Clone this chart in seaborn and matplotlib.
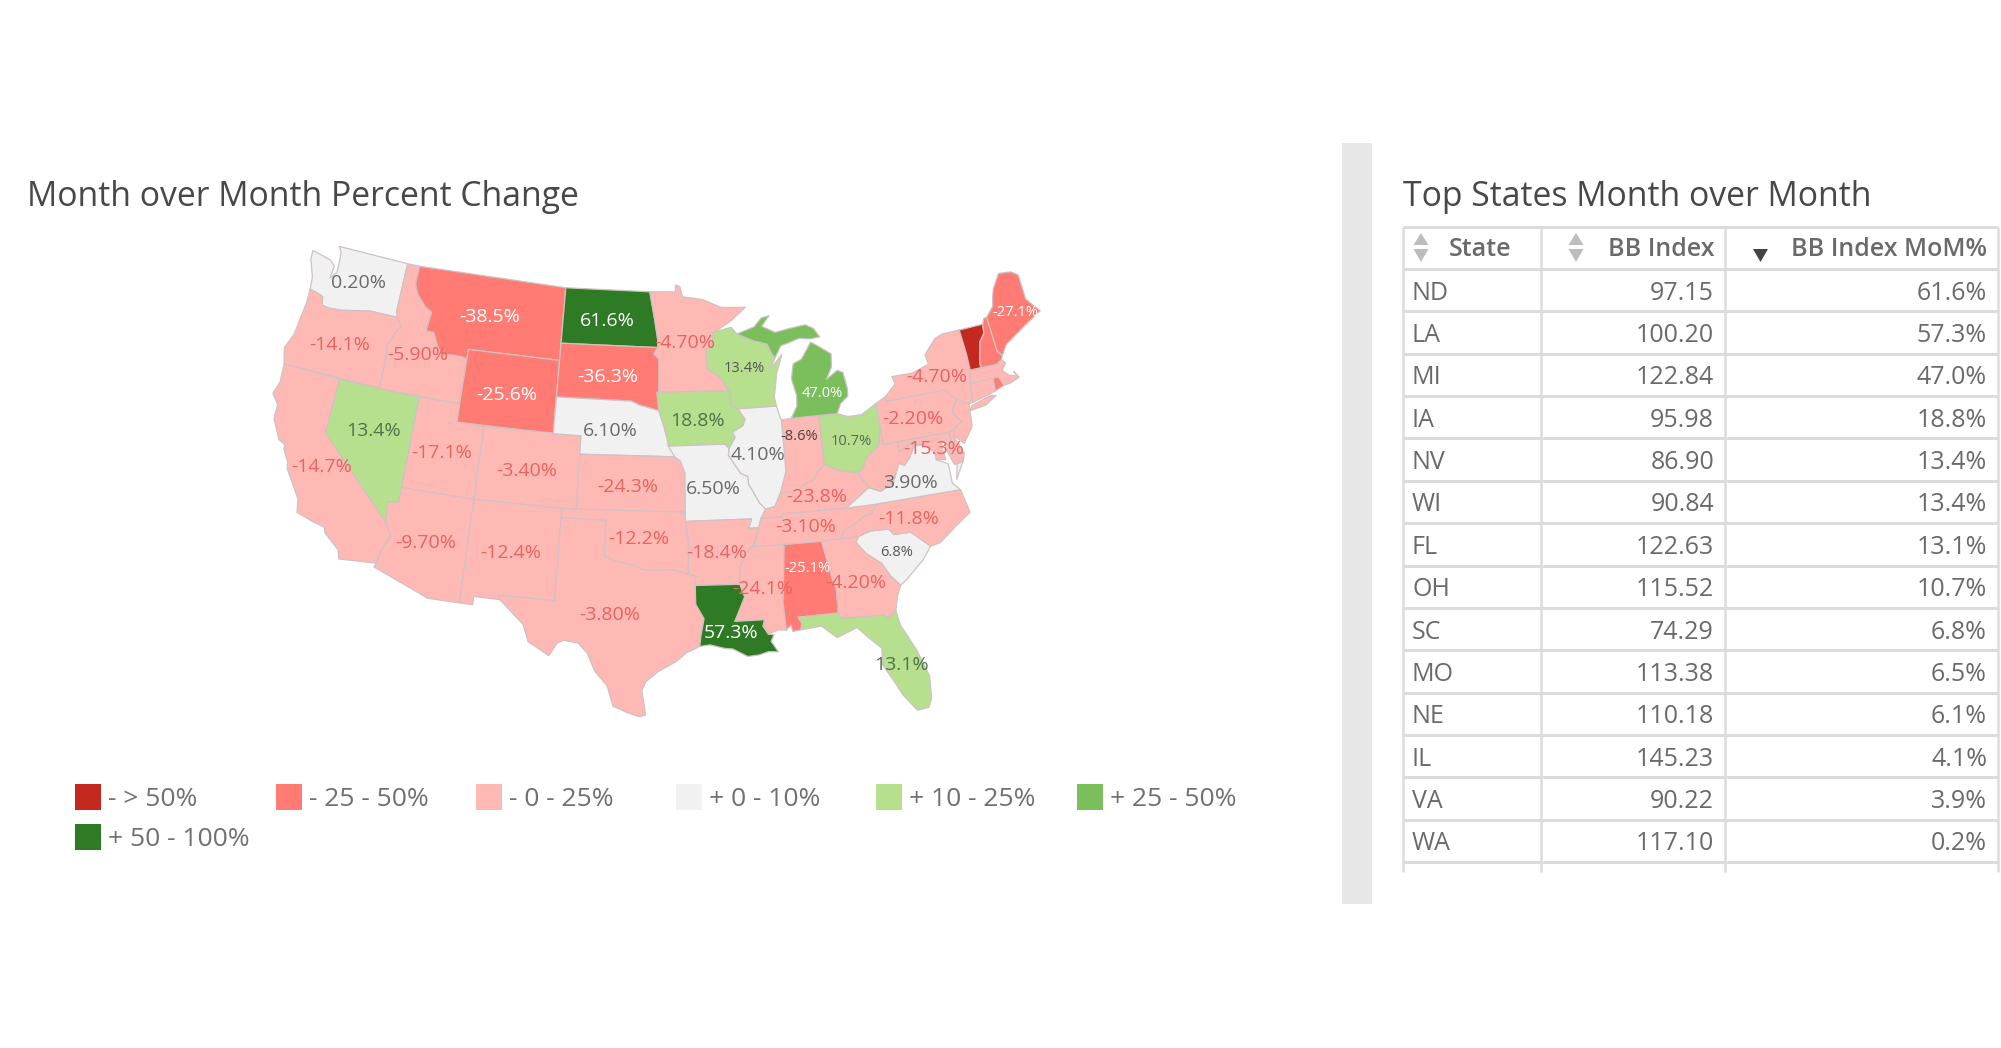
import numpy as np
import pandas as pd
import seaborn as sns
import matplotlib
matplotlib.use("Agg")
import matplotlib.pyplot as plt
from matplotlib.patches import Polygon, Rectangle

# ---------------- data ----------------
table_states = ["ND","LA","MI","IA","NV","WI","FL","OH","SC","MO","NE","IL","VA","WA"]
table_index = ["97.15","100.20","122.84","95.98","86.90","90.84","122.63","115.52","74.29","113.38","110.18","145.23","90.22","117.10"]
table_mom = ["61.6%","57.3%","47.0%","18.8%","13.4%","13.4%","13.1%","10.7%","6.8%","6.5%","6.1%","4.1%","3.9%","0.2%"]

legend_labels = ["- > 50%","- 25 - 50%","- 0 - 25%","+ 0 - 10%","+ 10 - 25%","+ 25 - 50%","+ 50 - 100%"]
legend_colors = ["#c4281f","#ff7b74","#ffb9b5","#f1f1f1","#b6e08e","#7abf5c","#2f7a25"]

state_bin = {
 "WA":3,"OR":2,"CA":2,"NV":4,"ID":2,"MT":1,"WY":1,"UT":2,"AZ":2,"CO":2,"NM":2,"ND":6,"SD":1,"NE":3,
 "KS":2,"OK":2,"TX":2,"MN":2,"IA":4,"MO":3,"AR":2,"LA":6,"WI":4,"IL":3,"MI":5,"MI2":5,"IN":2,"OH":4,
 "KY":2,"TN":2,"MS":2,"AL":1,"GA":2,"FL":4,"SC":3,"NC":2,"VA":3,"VA2":3,"WV":2,"PA":2,"NY":2,"LI":2,
 "NJ":2,"MD":2,"DE":2,"CT":2,"RI":1,"MA":2,"VT":0,"NH":1,"ME":1}

# state outlines, longitude / latitude
outlines = {
"WA":[(-117.03,49),(-122.76,49),(-122.5,48.75),(-122.4,48.25),(-122.35,47.6),(-122.75,47.2),(-122.7,47.9),(-123.15,48.15),(-124.7,48.38),(-124.65,47.9),(-124.1,46.95),(-124.0,46.3),(-123.4,46.2),(-122.9,46.1),(-122.75,45.65),(-122.2,45.58),(-121.2,45.65),(-119.6,45.92),(-119,46),(-116.92,46),(-117.04,46.4)],
"OR":[(-124.0,46.3),(-123.4,46.2),(-122.9,46.1),(-122.75,45.65),(-122.2,45.58),(-121.2,45.65),(-119.6,45.92),(-119,46),(-116.92,46),(-116.46,45.6),(-116.85,45),(-117.2,44.4),(-117.03,43.8),(-117.03,42),(-124.21,42),(-124.55,42.84),(-124.15,43.7),(-124.05,44.7),(-123.95,45.5)],
"CA":[(-124.21,42),(-120,42),(-120,39),(-114.63,35),(-114.14,34.3),(-114.53,33.5),(-114.72,32.72),(-117.12,32.53),(-117.3,33.0),(-118.4,33.75),(-118.5,34.03),(-119.2,34.15),(-120.5,34.45),(-120.65,35.15),(-121.9,36.6),(-122.0,36.95),(-122.5,37.6),(-122.5,37.8),(-123,38),(-123.75,39),(-123.8,39.8),(-124.35,40.3),(-124.1,41)],
"NV":[(-120,42),(-114.04,42),(-114.04,36.2),(-114.75,36.1),(-114.63,35),(-120,39)],
"ID":[(-117.03,49),(-116.05,49),(-116.05,48),(-115.7,47.45),(-114.95,46.9),(-114.35,46.65),(-114.5,45.6),(-113.9,45.6),(-113.45,44.95),(-113,44.45),(-112.3,44.55),(-111.5,44.55),(-111.05,44.48),(-111.05,42),(-117.03,42),(-117.03,43.8),(-117.2,44.4),(-116.85,45),(-116.46,45.6),(-116.92,46),(-117.04,46.4)],
"MT":[(-116.05,49),(-104.05,49),(-104.05,45),(-111.05,45),(-111.05,44.48),(-111.5,44.55),(-112.3,44.55),(-113,44.45),(-113.45,44.95),(-113.9,45.6),(-114.5,45.6),(-114.35,46.65),(-114.95,46.9),(-115.7,47.45),(-116.05,48)],
"WY":[(-111.05,45),(-104.05,45),(-104.05,41),(-111.05,41)],
"UT":[(-114.04,42),(-111.05,42),(-111.05,41),(-109.05,41),(-109.05,37),(-114.04,37)],
"CO":[(-109.05,41),(-102.05,41),(-102.05,37),(-109.05,37)],
"AZ":[(-114.04,37),(-109.05,37),(-109.05,31.33),(-111.07,31.33),(-114.81,32.5),(-114.72,32.72),(-114.53,33.5),(-114.14,34.3),(-114.63,35),(-114.75,36.1),(-114.04,36.2)],
"NM":[(-109.05,37),(-103,37),(-103.04,32),(-106.62,32),(-106.53,31.78),(-108.2,31.78),(-108.2,31.33),(-109.05,31.33)],
"ND":[(-104.05,49),(-97.23,49),(-96.85,47.6),(-96.55,46.3),(-96.56,45.94),(-104.05,45.94)],
"SD":[(-104.05,45.94),(-96.56,45.94),(-96.85,45.6),(-96.45,45.3),(-96.45,43.5),(-96.6,43.5),(-96.45,42.5),(-97.9,42.8),(-98.5,43),(-104.05,43)],
"NE":[(-104.05,43),(-98.5,43),(-97.9,42.8),(-96.45,42.5),(-96.1,41.7),(-95.85,41),(-95.31,40),(-102.05,40),(-102.05,41),(-104.05,41)],
"KS":[(-102.05,40),(-95.31,40),(-94.9,39.75),(-94.6,39.1),(-94.62,37),(-102.05,37)],
"OK":[(-103,37),(-94.62,37),(-94.62,36.5),(-94.43,35.4),(-94.48,33.64),(-95.5,33.9),(-96.6,33.85),(-97.5,33.9),(-98.1,34.13),(-99.2,34.3),(-100,34.56),(-100,36.5),(-103,36.5)],
"TX":[(-103.04,36.5),(-100,36.5),(-100,34.56),(-99.2,34.3),(-98.1,34.13),(-97.5,33.9),(-96.6,33.85),(-95.5,33.9),(-94.48,33.64),(-94.04,33.55),(-94.04,33.02),(-94.04,32),(-93.53,31.2),(-93.75,30.3),(-93.85,29.7),(-94.7,29.35),(-95.3,28.9),(-96.4,28.35),(-97.15,27.8),(-97.4,27.3),(-97.15,25.96),(-97.5,25.85),(-98.2,26.05),(-99.1,26.4),(-99.5,27.5),(-100.3,28.3),(-100.8,29.25),(-101.4,29.77),(-102.3,29.88),(-102.7,29.7),(-103.15,28.98),(-104.5,29.65),(-104.9,30.55),(-106.53,31.78),(-106.62,32),(-103.04,32)],
"MN":[(-97.23,49),(-95.15,49),(-95.15,49.38),(-94.8,49.3),(-94.6,48.72),(-93.0,48.55),(-91.5,48.07),(-89.6,48.0),(-90.8,47.3),(-92.1,46.75),(-92.29,46.66),(-92.29,46.07),(-92.87,45.7),(-92.75,45),(-92.8,44.75),(-91.9,44.3),(-91.25,43.5),(-96.45,43.5),(-96.45,45.3),(-96.85,45.6),(-96.56,45.94),(-96.55,46.3),(-96.85,47.6)],
"IA":[(-96.45,43.5),(-91.22,43.5),(-91.1,42.7),(-90.64,42.5),(-90.15,41.9),(-90.35,41.55),(-91.1,41.25),(-90.95,40.95),(-91.42,40.38),(-91.73,40.61),(-95.77,40.58),(-95.85,41),(-96.1,41.7),(-96.45,42.5),(-96.6,43.5)],
"MO":[(-95.77,40.58),(-91.73,40.61),(-91.42,40.38),(-91.5,40.0),(-90.7,39.0),(-90.2,38.8),(-90.2,38.4),(-89.5,37.3),(-89.13,36.98),(-89.5,36.5),(-89.7,36.0),(-90.37,36),(-90.15,36.5),(-94.62,36.5),(-94.62,37),(-94.6,39.1),(-94.9,39.75),(-95.31,40)],
"AR":[(-94.62,36.5),(-90.15,36.5),(-90.37,36),(-89.7,36),(-90.1,35.1),(-90.6,34.7),(-91.1,33.9),(-91.17,33),(-94.04,33.02),(-94.04,33.55),(-94.48,33.64),(-94.43,35.4)],
"MS":[(-90.1,35),(-88.2,35),(-88.1,34.9),(-88.47,31.9),(-88.4,30.35),(-88.9,30.4),(-89.55,30.2),(-89.85,30.65),(-89.73,31),(-91.6,31),(-90.9,32.3),(-91.17,33),(-91.1,33.9),(-90.6,34.7)],
"LA":[(-94.04,33.02),(-91.17,33),(-90.9,32.3),(-91.6,31),(-89.73,31),(-89.85,30.65),(-89.55,30.2),(-89.2,30.15),(-89.4,29.8),(-89.0,29.2),(-89.6,29.25),(-90.2,29.1),(-90.9,29.05),(-91.8,29.5),(-92.3,29.55),(-93.2,29.77),(-93.85,29.7),(-93.75,30.3),(-93.53,31.2),(-94.04,32)],
"AL":[(-88.2,35),(-85.6,34.98),(-85.18,32.87),(-85,32.3),(-85.05,31),(-87.6,31),(-87.4,30.65),(-87.5,30.3),(-88,30.25),(-88.1,30.6),(-88.4,30.35),(-88.47,31.9),(-88.1,34.9)],
"GA":[(-85.6,34.98),(-83.1,35),(-83.35,34.7),(-82.75,34.0),(-81.9,33.4),(-81.4,32.6),(-80.88,32.05),(-81.2,31.5),(-81.45,30.72),(-82.05,30.36),(-82.2,30.57),(-84.86,30.7),(-85.05,31),(-85,32.3),(-85.18,32.87)],
"FL":[(-87.6,31),(-85.05,31),(-84.86,30.7),(-82.2,30.57),(-82.05,30.36),(-81.45,30.72),(-81.3,29.9),(-80.55,28.4),(-80.05,26.9),(-80.15,25.7),(-80.4,25.2),(-81.1,25.15),(-81.8,26.1),(-82.2,26.9),(-82.75,27.9),(-82.65,28.8),(-83.4,29.5),(-84.0,30.1),(-85.3,29.68),(-86.2,30.4),(-87.5,30.3),(-87.4,30.65)],
"SC":[(-83.1,35),(-82.3,35.2),(-81.05,35.15),(-80.8,34.82),(-79.67,34.8),(-78.55,33.86),(-79.2,33.2),(-80.45,32.3),(-80.88,32.05),(-81.4,32.6),(-81.9,33.4),(-82.75,34),(-83.35,34.7)],
"NC":[(-84.32,35),(-83.1,35),(-82.3,35.2),(-81.05,35.15),(-80.8,34.82),(-79.67,34.8),(-78.55,33.86),(-77.9,33.95),(-76.6,34.7),(-75.55,35.25),(-75.85,36.55),(-81.68,36.59),(-82.05,36.12),(-82.6,36.03),(-83.2,35.72),(-84.05,35.4)],
"TN":[(-89.5,36.5),(-88.05,36.5),(-88.05,36.65),(-83.68,36.6),(-81.68,36.59),(-82.05,36.12),(-82.6,36.03),(-83.2,35.72),(-84.05,35.4),(-84.32,35),(-85.6,34.98),(-88.2,35),(-90.1,35),(-89.7,36)],
"KY":[(-89.5,36.5),(-89.13,36.98),(-88.5,37.1),(-88.05,37.8),(-87.1,37.8),(-86.3,38.15),(-85.7,38.3),(-85.4,38.7),(-84.8,39.1),(-84.2,38.8),(-83.65,38.63),(-82.6,38.42),(-81.97,37.54),(-83.68,36.6),(-88.05,36.65),(-88.05,36.5)],
"VA":[(-83.68,36.6),(-81.68,36.59),(-75.85,36.55),(-76.3,37),(-76.3,38.05),(-77.05,38.4),(-77.05,38.85),(-77.72,39.32),(-78.35,39.4),(-78.85,38.77),(-79.3,38.42),(-79.65,38.58),(-80.3,37.55),(-81.22,37.24),(-81.97,37.54)],
"VA2":[(-75.95,37.15),(-75.25,38.03),(-75.7,37.95)],
"WV":[(-82.6,38.42),(-82.2,38.6),(-81.75,39.2),(-80.85,39.7),(-80.52,40.64),(-80.52,39.72),(-79.48,39.72),(-79.48,39.2),(-78.4,39.6),(-77.72,39.32),(-78.35,39.4),(-78.85,38.77),(-79.3,38.42),(-79.65,38.58),(-80.3,37.55),(-81.22,37.24),(-81.97,37.54)],
"OH":[(-84.82,39.1),(-84.8,41.7),(-83.45,41.73),(-82.7,41.5),(-81.7,41.5),(-80.52,41.98),(-80.52,40.64),(-80.85,39.7),(-81.75,39.2),(-82.2,38.6),(-82.6,38.42),(-83.65,38.63),(-84.2,38.8)],
"IN":[(-87.53,41.72),(-86.8,41.76),(-84.8,41.76),(-84.82,39.1),(-85.4,38.7),(-85.7,38.3),(-86.3,38.15),(-87.1,37.8),(-88.05,37.8),(-87.55,38.9),(-87.53,39.35)],
"IL":[(-90.64,42.5),(-87.8,42.5),(-87.6,41.85),(-87.53,41.72),(-87.53,39.35),(-87.55,38.9),(-88.05,37.8),(-88.5,37.1),(-89.13,36.98),(-89.5,37.3),(-90.2,38.4),(-90.2,38.8),(-90.7,39),(-91.5,40),(-91.42,40.38),(-90.95,40.95),(-91.1,41.25),(-90.35,41.55),(-90.15,41.9)],
"WI":[(-92.29,46.66),(-92.1,46.75),(-90.8,46.95),(-90.4,46.57),(-89.1,46.13),(-88.1,45.9),(-87.8,45.35),(-87.6,45.1),(-88.0,44.55),(-87.05,45.25),(-87.55,44.3),(-87.9,43.0),(-87.8,42.5),(-90.64,42.5),(-91.1,42.7),(-91.22,43.5),(-91.9,44.3),(-92.8,44.75),(-92.75,45),(-92.87,45.7),(-92.29,46.07)],
"MI":[(-86.8,41.76),(-84.8,41.76),(-83.45,41.73),(-83.1,42.25),(-82.5,42.6),(-82.45,43),(-82.6,43.9),(-83,44.07),(-83.9,43.65),(-83.4,44.3),(-83.3,45),(-84.1,45.45),(-84.75,45.78),(-85.1,45.4),(-85.6,44.9),(-86.25,44.7),(-86.5,43.9),(-86.25,43),(-86.3,42.4)],
"MI2":[(-90.4,46.57),(-89,46.9),(-88.4,47.35),(-87.75,47.45),(-88.4,46.9),(-87.4,46.5),(-86.2,46.65),(-85,46.75),(-84.4,46.5),(-84.0,46.0),(-84.75,45.95),(-85.6,46.05),(-86.5,45.85),(-87.05,45.75),(-87.6,45.1),(-87.8,45.35),(-88.1,45.9),(-89.1,46.13)],
"PA":[(-80.52,41.98),(-79.76,42.27),(-79.76,42),(-75.35,42),(-75.05,41.6),(-74.7,41.36),(-75.15,40.95),(-75.2,40.65),(-74.73,40.15),(-75.4,39.8),(-75.8,39.72),(-80.52,39.72),(-80.52,40.64)],
"NY":[(-79.76,42.27),(-78.9,42.85),(-79.05,43.27),(-77.5,43.25),(-76.2,43.55),(-76.3,44.1),(-75.3,44.85),(-74.7,45),(-73.35,45),(-73.25,43.6),(-73.27,42.75),(-73.5,42.05),(-73.65,41),(-73.92,40.99),(-74.7,41.36),(-75.05,41.6),(-75.35,42),(-79.76,42)],
"LI":[(-74.03,40.6),(-73.75,40.85),(-72.3,41.15),(-71.9,41.07),(-72.8,40.7)],
"NJ":[(-74.7,41.36),(-73.92,40.99),(-74,40.45),(-74.1,39.75),(-74.9,38.95),(-75.55,39.5),(-75.4,39.8),(-74.73,40.15),(-75.2,40.65),(-75.15,40.95)],
"DE":[(-75.8,39.72),(-75.4,39.8),(-75.55,39.5),(-75.05,38.45),(-75.7,38.46)],
"MD":[(-79.48,39.72),(-75.8,39.72),(-75.7,38.46),(-75.05,38.45),(-75.25,38.03),(-75.9,37.95),(-76.25,38.9),(-76.05,39.4),(-76.5,39.15),(-76.4,38.3),(-77.05,38.4),(-77.05,38.85),(-77.72,39.32),(-78.4,39.6),(-79.48,39.2)],
"CT":[(-73.5,42.05),(-71.8,42.02),(-71.85,41.32),(-73.65,41)],
"RI":[(-71.8,42.02),(-71.38,42.02),(-71.15,41.5),(-71.85,41.32)],
"MA":[(-73.5,42.05),(-73.27,42.75),(-71.3,42.7),(-70.85,42.87),(-70.6,42.65),(-71.0,42.3),(-70.6,41.95),(-70.0,41.78),(-70.2,42.07),(-69.95,41.7),(-70.65,41.53),(-71.15,41.5),(-71.38,42.02),(-71.8,42.02)],
"VT":[(-73.35,45),(-71.5,45),(-71.6,44.5),(-72.05,44.1),(-72.45,43),(-72.46,42.73),(-73.27,42.75),(-73.25,43.6)],
"NH":[(-71.5,45),(-71.3,45.3),(-71.08,45.3),(-70.98,43.4),(-70.7,43.07),(-70.85,42.87),(-71.3,42.7),(-72.46,42.73),(-72.45,43),(-72.05,44.1),(-71.6,44.5)],
"ME":[(-71.08,45.3),(-70.4,45.8),(-70.25,46.2),(-70,46.7),(-69.25,47.45),(-68.3,47.35),(-67.8,47.07),(-67.8,45.7),(-67.45,45.3),(-67,44.85),(-68.5,44.3),(-69,44.1),(-70.2,43.6),(-70.7,43.07),(-70.98,43.4)],
}

state_labels = {"WA":"0.20%","OR":"-14.1%","ID":"-5.90%","MT":"-38.5%","ND":"61.6%","SD":"-36.3%","WY":"-25.6%","NE":"6.10%",
 "NV":"13.4%","UT":"-17.1%","CO":"-3.40%","KS":"-24.3%","CA":"-14.7%","MN":"-4.70%","WI":"13.4%","MI":"47.0%","IA":"18.8%",
 "IL":"4.10%","IN":"-8.6%","OH":"10.7%","PA":"-2.20%","NY":"-4.70%","MD":"-15.3%","VA":"3.90%","KY":"-23.8%","TN":"-3.10%",
 "NC":"-11.8%","ME":"-27.1%","MO":"6.50%","AZ":"-9.70%","NM":"-12.4%","OK":"-12.2%","AR":"-18.4%","MS":"-24.1%","AL":"-25.1%",
 "GA":"-4.20%","SC":"6.8%","TX":"-3.80%","LA":"57.3%","FL":"13.1%"}

# ---------------- layout and style ----------------
label_anchor = {"WA":(358,282),"OR":(340,343),"ID":(418,353),"MT":(490,316),"ND":(607,319),"SD":(608,375),"WY":(507,394),"NE":(610,429),
 "NV":(373,429),"UT":(442,452),"CO":(527,469),"KS":(628,486),"CA":(322,466),"MN":(685,342),"WI":(744,367),"MI":(822,392),"IA":(697,420),
 "IL":(758,454),"IN":(799,435),"OH":(851,440),"PA":(913,418),"NY":(937,376),"MD":(934,448),"VA":(910,482),"KY":(817,496),"TN":(806,526),
 "NC":(909,518),"ME":(1015,311),"MO":(713,488),"AZ":(426,542),"NM":(511,552),"OK":(639,538),"AR":(717,552),"MS":(763,587),"AL":(807,567),
 "GA":(856,582),"SC":(897,551),"TX":(610,613),"LA":(731,632),"FL":(901,664)}
small_labels = {"WI":"#555555","MI":"#ffffff","IN":"#444444","OH":"#556b4d","ME":"#ffffff","AL":"#ffffff","SC":"#555555"}
label_colors = {2:"#e8625f",1:"#ffffff",0:"#ffffff",3:"#6a6a6a",4:"#4e7447",5:"#ffffff",6:"#ffffff"}

sns.set_theme(style="white", context="notebook")
plt.rcParams["font.family"] = ["Open Sans", "DejaVu Sans"]
palette = sns.color_palette(legend_colors)
W, H = 2001, 1048
fig = plt.figure(figsize=(W/100, H/100), dpi=100, facecolor="white")

# Albers conic projection, scaled to the picture
def albers(lon, lat):
    p1, p2 = np.radians(29.5), np.radians(45.5)
    n = (np.sin(p1)+np.sin(p2))/2
    C = np.cos(p1)**2 + 2*n*np.sin(p1)
    rho = np.sqrt(C - 2*n*np.sin(np.radians(lat)))/n
    th = n*np.radians(np.asarray(lon)+96.0)
    return rho*np.sin(th), rho*np.cos(th)

mp = fig.add_axes([0,0,1,1])
mp.set_xlim((0-665)/1064, (W-665)/1064)
mp.set_ylim(1.062+(H-250)/1049, 1.062-250/1049)
mp.axis("off")
for st, pts in outlines.items():
    a = np.array(pts)
    X, Y = albers(a[:,0], a[:,1])
    mp.add_patch(Polygon(np.c_[X,Y], closed=True, facecolor=palette[state_bin[st]],
                         edgecolor="#cfc2c2", linewidth=0.9, joinstyle="round"))

pg = fig.add_axes([0,0,1,1])
pg.set_xlim(0,W); pg.set_ylim(H,0); pg.axis("off"); pg.patch.set_alpha(0)

for st, txt in state_labels.items():
    x,y = label_anchor[st]
    if st in small_labels:
        c, fs = small_labels[st], 10.5
    else:
        c, fs = label_colors[state_bin[st]], 14
    pg.text(x,y+1.5,txt,ha="center",va="center",fontsize=fs,color=c)

pg.text(27,197,"Month over Month Percent Change",fontsize=24.3,color="#484848",va="center")
pg.text(1403,197,"Top States Month over Month",fontsize=24.3,color="#484848",va="center")

# legend
swatch_x = [88,289,489,689,889,1090,88]
swatch_y = [797,797,797,797,797,797,837]
lg = pd.DataFrame({"x":swatch_x,"y":swatch_y,"label":legend_labels})
sns.scatterplot(data=lg,x="x",y="y",hue="label",palette=legend_colors,marker="s",s=330,
                linewidth=0,legend=False,ax=pg)
pg.set_xlim(0,W); pg.set_ylim(H,0); pg.axis("off")
for x,y,t in zip(swatch_x,swatch_y,legend_labels):
    pg.text(x+20,y+3,t,fontsize=19,color="#707070",va="center")

# separator band
pg.add_patch(Rectangle((1342,143),30,761,facecolor="#e7e7e7",edgecolor="none"))

# table
grid="#dcdcdc"; tx="#6a6a6a"
xl=[1403,1541,1725,1998]
top=227; head=269; rh=42.36; n=len(table_states)
ys=[top,head]+[head+rh*(i+1) for i in range(n)]
for y in ys:
    pg.plot([xl[0],xl[-1]],[y,y],color=grid,lw=2.2,solid_capstyle="butt")
for x in xl:
    pg.plot([x,x],[top,ys[-1]+10],color=grid,lw=1.8,solid_capstyle="butt")
pg.text(1449,250,"State",fontsize=18,color=tx,va="center",fontweight="semibold")
pg.text(1714,250,"BB Index",fontsize=18,color=tx,va="center",ha="right",fontweight="semibold")
pg.text(1987,250,"BB Index MoM%",fontsize=18,color=tx,va="center",ha="right",fontweight="semibold")
for cx in (1421,1576):
    pg.add_patch(Polygon([(cx-7.5,245),(cx+7.5,245),(cx,233)],facecolor="#bdbdbd",edgecolor="none"))
    pg.add_patch(Polygon([(cx-7.5,249),(cx+7.5,249),(cx,262)],facecolor="#bdbdbd",edgecolor="none"))
pg.add_patch(Polygon([(1753,249),(1768,249),(1760.5,262)],facecolor="#444444",edgecolor="none"))
for i,(s,v,m) in enumerate(zip(table_states,table_index,table_mom)):
    y=head+rh*(i+0.5)+3
    pg.text(1412,y,s,fontsize=18,color=tx,va="center")
    pg.text(1714,y,v,fontsize=18,color=tx,va="center",ha="right")
    pg.text(1987,y,m,fontsize=18,color=tx,va="center",ha="right")

fig.savefig("out.png",dpi=100,facecolor="white")
